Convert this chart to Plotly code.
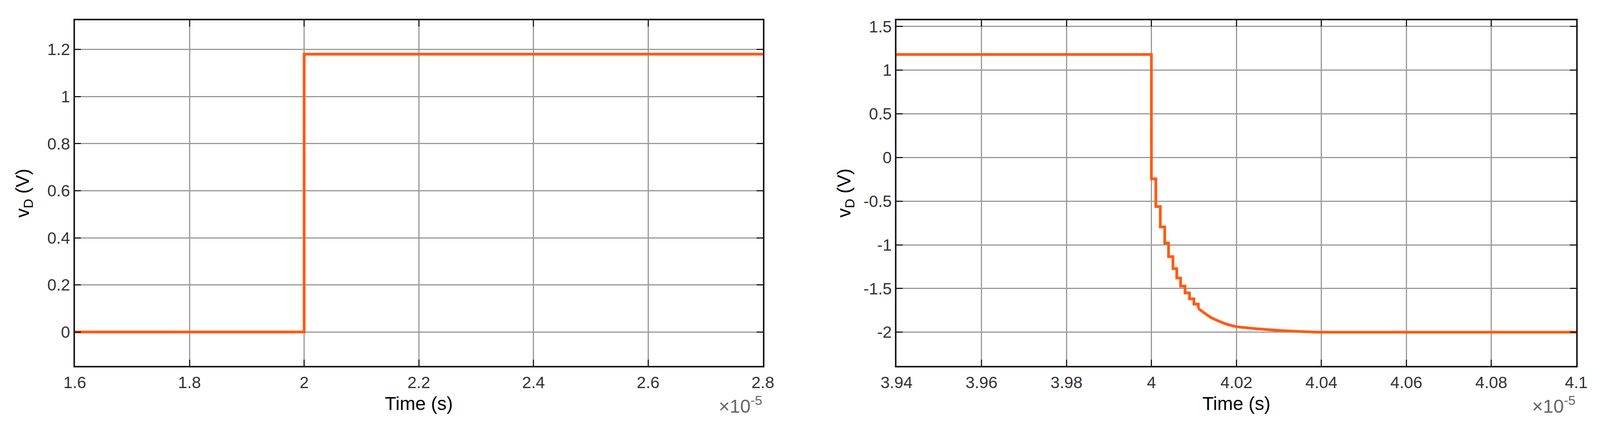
import plotly.graph_objects as go

# left panel: turn-on of the diode voltage
left_t = [1.6e-5, 2.0e-5, 2.8e-5]
left_v = [0.0, 1.18, 1.18]

# right panel: turn-off, staircase part (simulation steps) then smooth tail
step_t = [3.94e-5, 4.0e-5, 4.00104e-5, 4.00209e-5, 4.00313e-5, 4.00403e-5, 4.00507e-5,
          4.00597e-5, 4.00687e-5, 4.00791e-5, 4.00896e-5, 4.0100e-5, 4.01104e-5]
step_v = [1.18, -0.244, -0.562, -0.795, -0.980, -1.135, -1.273,
          -1.380, -1.473, -1.551, -1.618, -1.678, -1.729]
tail_t = [4.01104e-5, 4.01224e-5, 4.01403e-5, 4.01582e-5, 4.01761e-5, 4.0200e-5,
          4.0225e-5, 4.0250e-5, 4.0300e-5, 4.0350e-5, 4.0400e-5, 4.1000e-5]
tail_v = [-1.729, -1.773, -1.833, -1.873, -1.907, -1.937,
          -1.950, -1.962, -1.980, -1.992, -2.0, -2.0]

left_xticks = [1.6, 1.8, 2.0, 2.2, 2.4, 2.6, 2.8]
left_xlabels = ["1.6", "1.8", "2", "2.2", "2.4", "2.6", "2.8"]
left_yticks = [0, 0.2, 0.4, 0.6, 0.8, 1.0, 1.2]
left_ylabels = ["0", "0.2", "0.4", "0.6", "0.8", "1", "1.2"]
right_xticks = [3.94, 3.96, 3.98, 4.0, 4.02, 4.04, 4.06, 4.08, 4.1]
right_xlabels = ["3.94", "3.96", "3.98", "4", "4.02", "4.04", "4.06", "4.08", "4.1"]
right_yticks = [-2, -1.5, -1, -0.5, 0, 0.5, 1, 1.5]
right_ylabels = ["-2", "-1.5", "-1", "-0.5", "0", "0.5", "1", "1.5"]

SCALE = 1e5  # axis shows time in units of 1e-5 s
ORANGE = "#ff5a14"
FONT = "Liberation Sans, Arial, sans-serif"

# the page viewport is 4096 px wide and the body has an 8 px margin,
# so lay the figure out for that and map the reference pixel positions onto it
PAGE_W, PAGE_H, BODY = 4096, 1091, 8
SX = PAGE_W / 4175
W, H = PAGE_W - BODY, PAGE_H - BODY


def px(x):
    return (x * SX - BODY) / W


fig = go.Figure()
fig.add_trace(go.Scatter(x=[t * SCALE for t in left_t], y=left_v, mode="lines",
                         line=dict(color=ORANGE, width=7, shape="hv"),
                         xaxis="x", yaxis="y", showlegend=False))
fig.add_trace(go.Scatter(x=[t * SCALE for t in step_t], y=step_v, mode="lines",
                         line=dict(color=ORANGE, width=7, shape="hv"),
                         xaxis="x2", yaxis="y2", showlegend=False))
fig.add_trace(go.Scatter(x=[t * SCALE for t in tail_t], y=tail_v, mode="lines",
                         line=dict(color=ORANGE, width=7, shape="spline", smoothing=0.6),
                         xaxis="x2", yaxis="y2", showlegend=False))

axis_style = dict(showline=True, linecolor="#1a1a1a", linewidth=3.5, mirror="ticks",
                  ticks="inside", ticklen=16, tickwidth=3, tickcolor="#1a1a1a",
                  showgrid=True, gridcolor="#999999", gridwidth=3, zeroline=False,
                  automargin=False,
                  tickfont=dict(family=FONT, size=42, color="#333333"))

fig.update_layout(
    width=W, height=H,
    margin=dict(l=0, r=0, t=52 - BODY, b=H - (937.2 - BODY)),
    paper_bgcolor="white", plot_bgcolor="white",
    font=dict(family=FONT),
    xaxis=dict(domain=[px(195.2), px(1990.5)], range=[1.6, 2.8], anchor="y",
               tickvals=left_xticks, ticktext=left_xlabels, ticklabelstandoff=3, **axis_style),
    yaxis=dict(domain=[0, 1], range=[-0.144, 1.324], anchor="x",
               tickvals=left_yticks, ticktext=left_ylabels, ticklabelstandoff=0, **axis_style),
    xaxis2=dict(domain=[px(2339.4), px(4113)], range=[3.94, 4.1], anchor="y2",
                tickvals=right_xticks, ticktext=right_xlabels, ticklabelstandoff=3, **axis_style),
    yaxis2=dict(domain=[0, 1], range=[-2.386, 1.571], anchor="x2",
                tickvals=right_yticks, ticktext=right_ylabels, ticklabelstandoff=0, **axis_style),
)

for xa, ya in [("x", "y"), ("x2", "y2")]:
    fig.add_annotation(text="v<sub>D</sub> (V)", xref=xa + " domain", yref=ya + " domain",
                       x=0, y=0.5, xanchor="center", yanchor="middle", xshift=-134 * SX,
                       textangle=-90, showarrow=False,
                       font=dict(family=FONT, size=48, color="black"))
    fig.add_annotation(text="Time (s)", xref=xa + " domain", yref=ya + " domain",
                       x=0.5, y=0, xanchor="center", yanchor="middle", yshift=-96,
                       showarrow=False, font=dict(family=FONT, size=48, color="black"))
    fig.add_annotation(text="×10<sup>-5</sup>", xref=xa + " domain", yref=ya + " domain",
                       x=1, y=0, xanchor="right", yanchor="middle", yshift=-100,
                       showarrow=False, font=dict(family=FONT, size=48, color="#666666"))

fig.write_html("out.html")
